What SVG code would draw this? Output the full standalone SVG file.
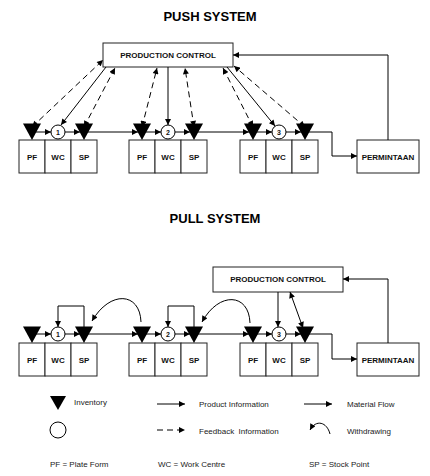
<svg xmlns="http://www.w3.org/2000/svg" width="430" height="476" viewBox="0 0 430 476">
<defs>
<style>
.box{fill:#fff;stroke:#222;stroke-width:1}
.inv{fill:#000;stroke:none}
.wc{fill:#fff;stroke:#000;stroke-width:1}
.t{font-family:"Liberation Sans",Arial,sans-serif;font-weight:bold;font-size:8px;fill:#111;text-anchor:middle}
.n{font-family:"Liberation Sans",Arial,sans-serif;font-weight:bold;font-size:7px;fill:#111;text-anchor:middle}
.title{font-family:"Liberation Sans",Arial,sans-serif;font-weight:bold;font-size:13px;fill:#000;text-anchor:middle}
.lg{font-family:"Liberation Sans",Arial,sans-serif;font-size:8px;fill:#222;white-space:pre}
.ln{fill:none;stroke:#000;stroke-width:1}
.ds{fill:none;stroke:#000;stroke-width:1;stroke-dasharray:6,4}
.a{marker-end:url(#ah)}
.aa{marker-start:url(#ah);marker-end:url(#ah)}
</style>
<marker id="ah" viewBox="0 0 10 10" refX="10" refY="5" markerWidth="7" markerHeight="6" orient="auto-start-reverse" markerUnits="userSpaceOnUse"><path d="M0,0 L10,5 L0,10 z" fill="#000"/></marker>
</defs>

<text class="title" x="210" y="21">PUSH SYSTEM</text>
<text class="title" x="215" y="223">PULL SYSTEM</text>

<!-- PUSH nodes -->
<g id="push-pc"><rect class="box" x="103" y="43" width="130" height="24"/><text class="t" x="168" y="58">PRODUCTION CONTROL</text></g>
<g id="push-st1">
<rect class="box" x="19" y="140" width="26" height="33"/><rect class="box" x="45" y="140" width="26" height="33"/><rect class="box" x="71" y="140" width="26" height="33"/>
<text class="t" x="32" y="160">PF</text><text class="t" x="58" y="160">WC</text><text class="t" x="84" y="160">SP</text>
<path class="inv" d="M23,123.5 H41 L32,140 z"/><path class="inv" d="M75,123.5 H93 L84,140 z"/>
<circle class="wc" cx="58" cy="132" r="7"/><text class="n" x="58" y="134.5">1</text>
</g>
<g id="push-st2">
<rect class="box" x="129" y="140" width="26" height="33"/><rect class="box" x="155" y="140" width="26" height="33"/><rect class="box" x="181" y="140" width="26" height="33"/>
<text class="t" x="142" y="160">PF</text><text class="t" x="168" y="160">WC</text><text class="t" x="194" y="160">SP</text>
<path class="inv" d="M133,123.5 H151 L142,140 z"/><path class="inv" d="M185,123.5 H203 L194,140 z"/>
<circle class="wc" cx="168" cy="132" r="7"/><text class="n" x="168" y="134.5">2</text>
</g>
<g id="push-st3">
<rect class="box" x="240" y="140" width="26" height="33"/><rect class="box" x="266" y="140" width="26" height="33"/><rect class="box" x="292" y="140" width="26" height="33"/>
<text class="t" x="253" y="160">PF</text><text class="t" x="279" y="160">WC</text><text class="t" x="305" y="160">SP</text>
<path class="inv" d="M244,123.5 H262 L253,140 z"/><path class="inv" d="M296,123.5 H314 L305,140 z"/>
<circle class="wc" cx="279" cy="132" r="7"/><text class="n" x="279" y="134.5">3</text>
</g>
<g id="push-perm"><rect class="box" x="357" y="140" width="62" height="33"/><text class="t" x="388" y="160">PERMINTAAN</text></g>

<!-- PULL nodes -->
<g id="pull-pc"><rect class="box" x="213" y="267" width="130" height="25"/><text class="t" x="278" y="282">PRODUCTION CONTROL</text></g>
<g id="pull-st1">
<rect class="box" x="19" y="343" width="26" height="33"/><rect class="box" x="45" y="343" width="26" height="33"/><rect class="box" x="71" y="343" width="26" height="33"/>
<text class="t" x="32" y="363">PF</text><text class="t" x="58" y="363">WC</text><text class="t" x="84" y="363">SP</text>
<path class="inv" d="M23,326.5 H41 L32,343 z"/><path class="inv" d="M75,326.5 H93 L84,343 z"/>
<circle class="wc" cx="58" cy="334" r="7"/><text class="n" x="58" y="336.5">1</text>
</g>
<g id="pull-st2">
<rect class="box" x="129" y="343" width="26" height="33"/><rect class="box" x="155" y="343" width="26" height="33"/><rect class="box" x="181" y="343" width="26" height="33"/>
<text class="t" x="142" y="363">PF</text><text class="t" x="168" y="363">WC</text><text class="t" x="194" y="363">SP</text>
<path class="inv" d="M133,326.5 H151 L142,343 z"/><path class="inv" d="M185,326.5 H203 L194,343 z"/>
<circle class="wc" cx="168" cy="334" r="7"/><text class="n" x="168" y="336.5">2</text>
</g>
<g id="pull-st3">
<rect class="box" x="240" y="343" width="26" height="33"/><rect class="box" x="266" y="343" width="26" height="33"/><rect class="box" x="292" y="343" width="26" height="33"/>
<text class="t" x="253" y="363">PF</text><text class="t" x="279" y="363">WC</text><text class="t" x="305" y="363">SP</text>
<path class="inv" d="M244,326.5 H262 L253,343 z"/><path class="inv" d="M296,326.5 H314 L305,343 z"/>
<circle class="wc" cx="279" cy="334" r="7"/><text class="n" x="279" y="336.5">3</text>
</g>
<g id="pull-perm"><rect class="box" x="357" y="343" width="62" height="33"/><text class="t" x="388" y="363">PERMINTAAN</text></g>

<!-- connectors -->
<g id="connectors">
<!-- push flow -->
<line class="ln a" x1="36" y1="132" x2="51" y2="132"/>
<line class="ln a" x1="65" y1="132" x2="80" y2="132"/>
<line class="ln a" x1="88" y1="132" x2="138" y2="132"/>
<line class="ln a" x1="146" y1="132" x2="161" y2="132"/>
<line class="ln a" x1="175" y1="132" x2="190" y2="132"/>
<line class="ln a" x1="198" y1="132" x2="249" y2="132"/>
<line class="ln a" x1="257" y1="132" x2="272" y2="132"/>
<line class="ln a" x1="286" y1="132" x2="301" y2="132"/>
<path class="ln a" d="M309,132 H332 V156 H357"/>
<path class="ln a" d="M388,140 V55 H233"/>
<!-- push control -->
<line class="ds aa" x1="32" y1="127" x2="103" y2="60"/>
<line class="ln a" x1="106" y1="67" x2="61" y2="125"/>
<line class="ds aa" x1="84" y1="127" x2="115" y2="68"/>
<line class="ds aa" x1="142" y1="127" x2="157" y2="68"/>
<line class="ln a" x1="168" y1="67" x2="168" y2="125"/>
<line class="ds aa" x1="194" y1="127" x2="185" y2="68"/>
<line class="ds aa" x1="253" y1="127" x2="223" y2="68"/>
<line class="ln a" x1="227" y1="67" x2="275" y2="126"/>
<line class="ds aa" x1="305" y1="127" x2="234" y2="66"/>
<!-- pull flow -->
<line class="ln a" x1="36" y1="334" x2="51" y2="334"/>
<line class="ln a" x1="65" y1="334" x2="80" y2="334"/>
<line class="ln a" x1="88" y1="334" x2="138" y2="334"/>
<line class="ln a" x1="146" y1="334" x2="161" y2="334"/>
<line class="ln a" x1="175" y1="334" x2="190" y2="334"/>
<line class="ln a" x1="198" y1="334" x2="249" y2="334"/>
<line class="ln a" x1="257" y1="334" x2="272" y2="334"/>
<line class="ln a" x1="286" y1="334" x2="301" y2="334"/>
<path class="ln a" d="M309,334 H332 V359 H357"/>
<path class="ln a" d="M388,343 V279 H343"/>
<!-- pull loops -->
<path class="ln a" d="M84,328 V306 H58 V327"/>
<path class="ln a" d="M194,328 V306 H168 V327"/>
<line class="ln a" x1="278" y1="292" x2="278" y2="327"/>
<line class="ln aa" x1="290" y1="292" x2="303" y2="328"/>
<!-- withdrawing -->
<path class="ln a" d="M141,322 C140,292 110,290 92,321"/>
<path class="ln a" d="M250,323 C249,293 219,291 202,322"/>
</g>

<!-- legend -->
<g id="legend">
<path class="inv" d="M50,396 H66 L58,410 z"/>
<text class="lg" x="74" y="405">Inventory</text>
<circle class="wc" cx="58" cy="430" r="8"/>
<line class="ln a" x1="157" y1="404" x2="185" y2="404"/>
<text class="lg" x="199" y="407">Product Information</text>
<line class="ds a" x1="157" y1="430" x2="185" y2="430"/>
<text class="lg" x="199" y="434">Feedback  Information</text>
<line class="ln a" x1="304" y1="404" x2="332" y2="404"/>
<text class="lg" x="347" y="407">Material Flow</text>
<path class="ln a" d="M330,434 C327,422 316,419 310,430"/>
<text class="lg" x="347" y="434">Withdrawing</text>
<text class="lg" x="50" y="467">PF = Plate Form</text>
<text class="lg" x="158" y="467">WC = Work Centre</text>
<text class="lg" x="309" y="467">SP = Stock Point</text>
</g>
</svg>
